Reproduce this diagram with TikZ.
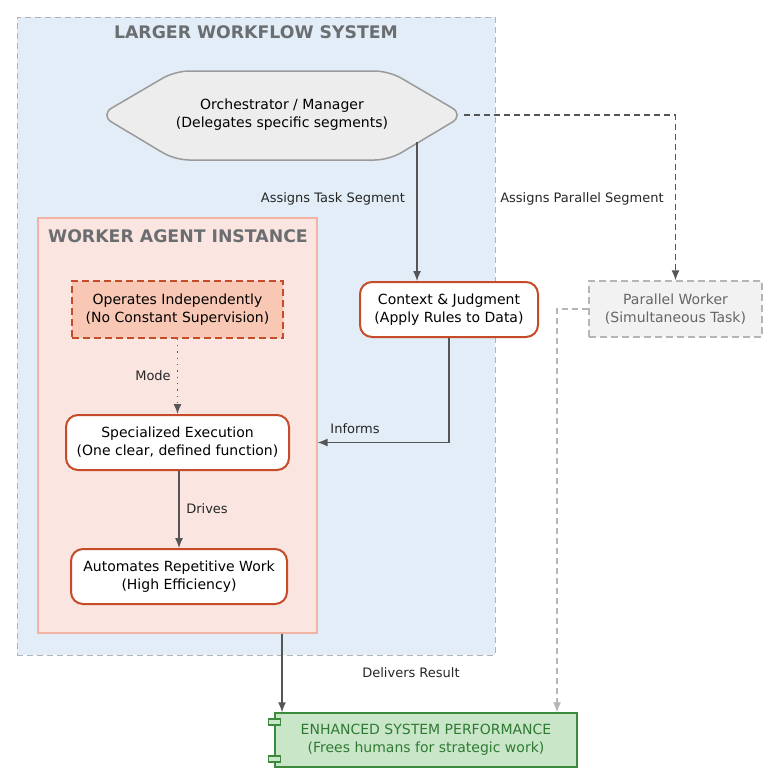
\documentclass[tikz,border=0pt]{standalone}
\usepackage{fontspec}
\setmainfont{DejaVu Sans}
\usetikzlibrary{arrows.meta,calc}
\definecolor{sysfill}{HTML}{E2EDF8}
\definecolor{sysline}{HTML}{AEB4BA}
\definecolor{wkfill}{HTML}{FBE5E1}
\definecolor{wkline}{HTML}{F1B3A3}
\definecolor{orng}{HTML}{C64B29}
\definecolor{opsfill}{HTML}{F8C8B5}
\definecolor{hexfill}{HTML}{EDEDED}
\definecolor{hexline}{HTML}{9A9A9A}
\definecolor{arrc}{HTML}{555555}
\definecolor{ttl}{HTML}{6B6E70}
\definecolor{grnfill}{HTML}{C9E6C9}
\definecolor{grnline}{HTML}{3C8A3E}
\definecolor{grntxt}{HTML}{2F7A33}
\definecolor{pwfill}{HTML}{F2F2F2}
\definecolor{pwline}{HTML}{B5B5B5}
\definecolor{pwtxt}{HTML}{666666}
\begin{document}
\begin{tikzpicture}[x=1pt,y=-1pt,
  txt/.style={font=\fontsize{14}{18}\selectfont, align=center, text=black},
  lbl/.style={font=\fontsize{13}{16}\selectfont, text=black!85, inner sep=0pt},
  ttlstyle/.style={font=\fontsize{17.3}{20}\selectfont\bfseries, text=ttl, inner sep=0pt},
  procbox/.style={txt, draw=orng, line width=2pt, fill=white, rounded corners=12pt},
  arr/.style={draw=arrc, line width=1.3pt, -{Latex[length=10pt,width=8pt]}},
  longdash/.style={dash pattern=on 7pt off 4pt},
]
\useasboundingbox (0,0) rectangle (768,774);
% system container
\node[draw=sysline, dash pattern=on 6pt off 4pt, fill=sysfill, line width=1pt, minimum width=478, minimum height=638, inner sep=0pt] (sys) at (256,336) {};
\node[ttlstyle] (systitle) at (256,32) {LARGER WORKFLOW SYSTEM};
% worker container
\node[draw=wkline, fill=wkfill, line width=1.2pt, minimum width=279, minimum height=415, inner sep=0pt] (worker) at (177.5,425.5) {};
\node[ttlstyle] (wktitle) at (178,236) {WORKER AGENT INSTANCE};
% orchestrator hexagon
\node[txt, minimum width=364, minimum height=89, inner sep=0pt] (orch) at (282,115) {};
\fill[hexfill, draw=hexline, line width=1.5pt, rounded corners=14pt]
  (orch.west) -- (175,71) -- (389,71) -- (orch.east) -- (389,160) -- (175,160) -- cycle;
\node[txt] (orchtext) at (orch) {Orchestrator / Manager\\(Delegates specific segments)};
% nodes
\node[procbox, minimum width=178, minimum height=55] (ctx) at (449,309.5) {Context \& Judgment\\(Apply Rules to Data)};
\node[txt, draw=pwline, longdash, line width=1.5pt, fill=pwfill, text=pwtxt, minimum width=173, minimum height=56] (par) at (675.5,309) {Parallel Worker\\(Simultaneous Task)};
\node[txt, draw=orng, longdash, line width=1.6pt, fill=opsfill, minimum width=211, minimum height=57] (ops) at (177.5,309.5) {Operates Independently\\(No Constant Supervision)};
\node[procbox, minimum width=223, minimum height=55] (spec) at (177.5,442.5) {Specialized Execution\\(One clear, defined function)};
\node[procbox, minimum width=216, minimum height=55] (auto) at (179,576.5) {Automates Repetitive Work\\(High Efficiency)};
\node[txt, draw=grnline, line width=1.5pt, fill=grnfill, text=grntxt, minimum width=302, minimum height=54] (enh) at (426,740) {ENHANCED SYSTEM PERFORMANCE\\(Frees humans for strategic work)};
\node[draw=grnline, line width=1.5pt, fill=grnfill, minimum width=12, minimum height=6, inner sep=0pt] (tab1) at (enh.west |- 0,722) {};
\node[draw=grnline, line width=1.5pt, fill=grnfill, minimum width=12, minimum height=6, inner sep=0pt] (tab2) at (enh.west |- 0,759) {};
% connectors
\coordinate (orchout) at (417,142);
\draw[arr] (orchout) -- (orchout |- ctx.north);
\draw[arr, dash pattern=on 6pt off 4pt] (orch.east) -| (par.north);
\draw[arr, dash pattern=on 1.3pt off 5pt] (ops.south) -- (spec.north);
\draw[arr] (ctx.south) |- (spec.east -| worker.east);
\draw[arr] (auto.north |- spec.south) -- (auto.north);
\coordinate (wkout) at ([xshift=104.5]worker.south);
\draw[arr] (wkout) -- (wkout |- enh.north);
\draw[draw=pwline, line width=1.3pt, dash pattern=on 6pt off 4pt, -{Latex[length=10pt,width=8pt]}] (par.west) -| ([xshift=131]enh.north);
% labels
\node[lbl] (l1) at (333,199) {Assigns Task Segment};
\node[lbl] (l2) at (582,199) {Assigns Parallel Segment};
\node[lbl] (l3) at (153,376) {Mode};
\node[lbl] (l4) at (355,429) {Informs};
\node[lbl] (l5) at (207,509) {Drives};
\node[lbl] (l6) at (411,673) {Delivers Result};
\end{tikzpicture}
\end{document}
